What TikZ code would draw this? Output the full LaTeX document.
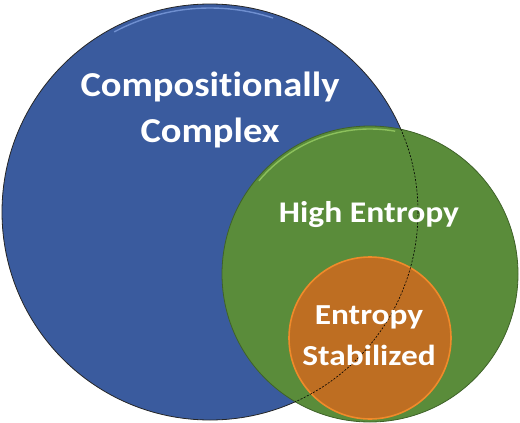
\documentclass[tikz,border=0pt]{standalone}
\usepackage{fontspec}
\setmainfont{Carlito}[Ligatures=NoCommon]
\begin{document}
\begin{tikzpicture}[x=1pt,y=-1pt,
  blob/.style={circle,inner sep=0pt,outer sep=0pt},
  lbl/.style={text=white,align=center}]
\definecolor{cblue}{HTML}{3A5B9E}
\definecolor{cgreen}{HTML}{5A8C3A}
\definecolor{corange}{HTML}{BE6E22}
\definecolor{rimgreen}{HTML}{8CC05C}
\definecolor{rimorange}{HTML}{F08A2A}
\definecolor{rimblue}{HTML}{6F8FD0}
\useasboundingbox (0,0) rectangle (520,423);
% blue circle
\node[blob,minimum size=416pt,fill=cblue,draw=black!85,line width=0.8pt] (cc) at (210,212) {};
\draw[rimblue,line width=1.4pt] (cc.center) ++(-72:204) arc (-72:-118:204);
% green circle
\node[blob,minimum size=296pt,fill=cgreen,draw=cgreen!70!black,line width=0.8pt] (he) at (370,274) {};
\draw[rimgreen,line width=1.4pt] (he.center) ++(-80:145) arc (-80:-140:145);
% orange circle
\node[blob,minimum size=162pt,fill=corange,draw=rimorange,line width=1.6pt] (es) at (370,338) {};
% dashed continuation of blue outline
\begin{scope}
\clip (he.center) circle (148);
\draw[black,line width=0.6pt,dash pattern=on 2pt off 1.5pt] (cc.center) circle (208);
\end{scope}
% labels
\node[lbl,xscale=1.1,font=\bfseries\fontsize{35}{46}\selectfont] (t1) at (210,110) {Compositionally\\Complex};
\node[lbl,xscale=1.12,font=\bfseries\fontsize{30}{36}\selectfont] (t2) at (369,215) {High Entropy};
\node[lbl,xscale=1.15,font=\bfseries\fontsize{29}{41}\selectfont] (t3) at (369,336) {Entropy\\Stabilized};
\end{tikzpicture}
\end{document}
